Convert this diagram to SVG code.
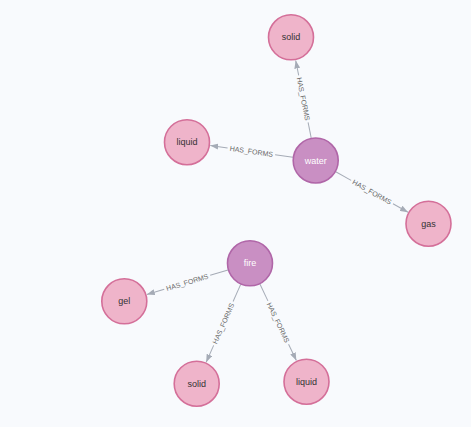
<svg xmlns="http://www.w3.org/2000/svg" width="474" height="430" viewBox="0 0 474 430">
<defs>
<marker id="arr" viewBox="0 0 8 6" refX="8" refY="3" markerWidth="8" markerHeight="6" markerUnits="userSpaceOnUse" orient="auto">
<path d="M0,0 L8,3 L0,6 z" fill="#a5abb6"/>
</marker>
<style>
.leaf circle{fill:#efb4ca;stroke:#d46f99;stroke-width:1.6}
.hub circle{fill:#c98fc3;stroke:#b066a8;stroke-width:1.6}
.leaf text{fill:#333;font-family:"Liberation Sans",Arial,sans-serif;font-size:9px;text-anchor:middle;dominant-baseline:central}
.hub text{fill:#fff;font-family:"Liberation Sans",Arial,sans-serif;font-size:9px;text-anchor:middle;dominant-baseline:central}
.edge line{stroke:#a5abb6;stroke-width:1}
.edge line.h{marker-end:url(#arr)}
.edge text{fill:#666;font-family:"Liberation Sans",Arial,sans-serif;font-size:7px;text-anchor:middle;dominant-baseline:central}
</style>
</defs>
<rect x="0" y="0" width="474" height="430" fill="#ffffff"/>
<rect x="0" y="0" width="471" height="427" fill="#f8fafd"/>
<g id="connectors">
<g class="edge" transform="translate(315.7,160.5) rotate(-101.3)">
<line x1="23" y1="0" x2="38.8" y2="0"/><line class="h" x1="86.8" y1="0" x2="102" y2="0"/>
<text transform="translate(62.8,0) rotate(180)">HAS_FORMS</text>
</g>
<g class="edge" transform="translate(315.7,160.5) rotate(-171.9)">
<line x1="23" y1="0" x2="41" y2="0"/><line class="h" x1="89" y1="0" x2="106.5" y2="0"/>
<text transform="translate(65,0) rotate(180)">HAS_FORMS</text>
</g>
<g class="edge" transform="translate(315.7,160.5) rotate(29.26)">
<line x1="23" y1="0" x2="40.6" y2="0"/><line class="h" x1="88.6" y1="0" x2="105.8" y2="0"/>
<text transform="translate(64.6,0)">HAS_FORMS</text>
</g>
<g class="edge" transform="translate(250,263.3) rotate(163.18)">
<line x1="23" y1="0" x2="41.6" y2="0"/><line class="h" x1="89.6" y1="0" x2="107.8" y2="0"/>
<text transform="translate(65.6,0) rotate(180)">HAS_FORMS</text>
</g>
<g class="edge" transform="translate(250,263.3) rotate(113.88)">
<line x1="23" y1="0" x2="41.8" y2="0"/><line class="h" x1="89.8" y1="0" x2="108.2" y2="0"/>
<text transform="translate(65.8,0) rotate(180)">HAS_FORMS</text>
</g>
<g class="edge" transform="translate(250,263.3) rotate(64.5)">
<line x1="23" y1="0" x2="41.6" y2="0"/><line class="h" x1="89.6" y1="0" x2="107.7" y2="0"/>
<text transform="translate(65.6,0)">HAS_FORMS</text>
</g>
</g>
<g id="water" class="hub"><circle cx="315.7" cy="160.5" r="22.5"/><text x="315.7" y="160.5">water</text></g>
<g id="fire" class="hub"><circle cx="250" cy="263.3" r="22.5"/><text x="250" y="263.3">fire</text></g>
<g id="solid1" class="leaf"><circle cx="291" cy="37.3" r="22.5"/><text x="291" y="37.3">solid</text></g>
<g id="liquid1" class="leaf"><circle cx="187" cy="142.2" r="22.5"/><text x="187" y="142.2">liquid</text></g>
<g id="gas" class="leaf"><circle cx="428.5" cy="223.7" r="22.5"/><text x="428.5" y="223.7">gas</text></g>
<g id="gel" class="leaf"><circle cx="124.3" cy="301.3" r="22.5"/><text x="124.3" y="301.3">gel</text></g>
<g id="solid2" class="leaf"><circle cx="196.7" cy="383.7" r="22.5"/><text x="196.7" y="383.7">solid</text></g>
<g id="liquid2" class="leaf"><circle cx="306.5" cy="381.7" r="22.5"/><text x="306.5" y="381.7">liquid</text></g>
</svg>
